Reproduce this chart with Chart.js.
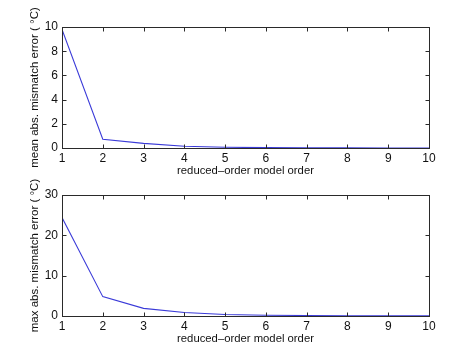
<!DOCTYPE html>
<html><head><meta charset="utf-8">
<script src="https://cdn.jsdelivr.net/npm/chart.js@4"></script>
<style>
html,body{margin:0;padding:0;background:#fff;}
.wrap{position:absolute;left:0;width:474px;height:178px;}
</style></head>
<body>
<div class="wrap" style="top:0"><canvas id="c1" width="474" height="178"></canvas></div>
<div class="wrap" style="top:168px"><canvas id="c2" width="474" height="178"></canvas></div>
<script>
const orders = [1,2,3,4,5,6,7,8,9,10];
const meanErr = [9.8, 0.72, 0.38, 0.14, 0.06, 0.03, 0.02, 0.01, 0.005, 0.003];
const maxErr = [24.4, 4.8, 1.9, 0.85, 0.37, 0.2, 0.12, 0.08, 0.05, 0.03];
const xTicks = [1,2,3,4,5,6,7,8,9,10];
const meanTicks = [0,2,4,6,8,10];
const maxTicks = [0,10,20,30];
const xTitle = 'reduced\u2013order model order';
const meanTitle = 'mean abs. mismatch error ( \u00B0C)';
const maxTitle = 'max abs. mismatch error ( \u00B0C)';

const FONT = 'Liberation Sans, Arial, Helvetica, sans-serif';

const framePlugin = {
  id: 'frame',
  afterDraw(chart, args, opts) {
    const {ctx, chartArea: a, scales: {x, y}} = chart;
    ctx.save();
    ctx.strokeStyle = '#2a2a2a';
    ctx.lineWidth = 1;
    const L = Math.round(a.left) + 0.5, R = Math.round(a.right) + 0.5;
    const T = Math.round(a.top) + 0.5, B = Math.round(a.bottom) + 0.5;
    ctx.strokeRect(L, T, R - L, B - T);
    const tl = 4;
    ctx.beginPath();
    x.ticks.forEach(t => {
      const px = Math.round(x.getPixelForValue(t.value)) + 0.5;
      ctx.moveTo(px, B); ctx.lineTo(px, B - tl);
      ctx.moveTo(px, T); ctx.lineTo(px, T + tl);
    });
    y.ticks.forEach(t => {
      const py = Math.round(y.getPixelForValue(t.value)) + 0.5;
      ctx.moveTo(L, py); ctx.lineTo(L + tl, py);
      ctx.moveTo(R, py); ctx.lineTo(R - tl, py);
    });
    ctx.stroke();
    ctx.fillStyle = '#111';
    ctx.font = '11.5px ' + FONT;
    ctx.textAlign = 'center';
    ctx.textBaseline = 'middle';
    ctx.translate(opts.titleX, (a.top + a.bottom) / 2);
    ctx.rotate(-Math.PI / 2);
    ctx.fillText(opts.text, 0, 0);
    ctx.restore();
  }
};

function makeChart(id, data, yTicks, yMax, yTitle) {
  return new Chart(document.getElementById(id), {
    type: 'line',
    data: {
      labels: orders,
      datasets: [{
        data: orders.map((o, i) => ({x: o, y: data[i]})),
        borderColor: '#3a3ad8',
        borderWidth: 1.1,
        pointRadius: 0,
        fill: false,
        tension: 0
      }]
    },
    options: {
      responsive: false,
      animation: false,
      events: [],
      layout: {padding: {left: 0, right: 45, top: 27, bottom: 0}},
      plugins: {legend: {display: false}, tooltip: {enabled: false},
        frame: {text: yTitle, titleX: 35}},
      scales: {
        x: {
          type: 'linear', min: 1, max: 10,
          afterBuildTicks: s => { s.ticks = xTicks.map(v => ({value: v})); },
          afterFit: s => { s.height = 30; },
          grid: {display: false, drawTicks: false},
          border: {display: false},
          ticks: {padding: 3, color: '#111', font: {size: 12, family: FONT}, maxRotation: 0, autoSkip: false},
          title: {display: true, text: xTitle, color: '#111', font: {size: 11.3, family: FONT}, padding: {top: 0, bottom: 0}}
        },
        y: {
          type: 'linear', min: 0, max: yMax,
          afterBuildTicks: s => { s.ticks = yTicks.map(v => ({value: v})); },
          afterFit: s => { s.width = 62; },
          grid: {display: false, drawTicks: false},
          border: {display: false},
          ticks: {padding: 4, color: '#111', font: {size: 12, family: FONT}, autoSkip: false}
        }
      }
    },
    plugins: [framePlugin]
  });
}
makeChart('c1', meanErr, meanTicks, 10, meanTitle);
makeChart('c2', maxErr, maxTicks, 30, maxTitle);
</script>
</body></html>
